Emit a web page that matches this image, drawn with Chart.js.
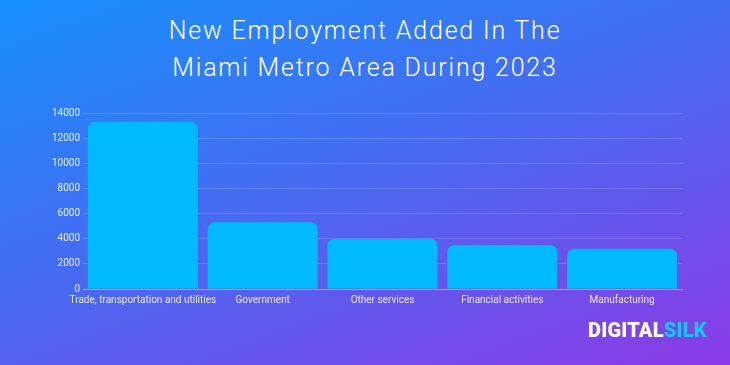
<!DOCTYPE html>
<html>
<head>
<meta charset="utf-8">
<script src="https://cdn.jsdelivr.net/npm/chart.js@4"></script>
<style>
  html, body { margin: 0; padding: 0; }
  body {
    width: 730px; height: 365px; overflow: hidden; position: relative;
    background: linear-gradient(160deg, #1790ff 0%, #4a68f0 50%, #8c3ae6 100%);
    font-family: Roboto, sans-serif;
  }
  #title {
    position: absolute; left: 0; top: 12px; width: 730px;
    text-align: center; color: #fff; font-size: 25px; font-weight: 300;
    line-height: 37px; letter-spacing: 1.8px;
  }
  #logo {
    position: absolute; left: 588px; top: 318px;
    font-family: Roboto, sans-serif; font-weight: 900; font-size: 20px;
    letter-spacing: 0.2px; color: #fff;
  }
  #logo span { color: #16c6f0; }
  canvas { position: absolute; left: 0; top: 0; }
</style>
</head>
<body>
<div id="title">New Employment Added In The<br>Miami Metro Area During 2023</div>
<canvas id="chart" width="730" height="365"></canvas>
<div id="logo">DIGITAL<span>SILK</span></div>
<script>
var labels = ['Trade, transportation and utilities', 'Government', 'Other services', 'Financial activities', 'Manufacturing'];
var jobs = [13300, 5300, 4000, 3500, 3200];
var yTicks = [0, 2000, 4000, 6000, 8000, 10000, 12000, 14000];

Chart.defaults.font.family = 'Roboto, sans-serif';
Chart.defaults.font.size = 10;
Chart.defaults.color = 'rgba(255,255,255,0.85)';

var myChart = new Chart('chart', {
    type: 'bar',
    data: {
        labels: labels,
        datasets: [{
            label: 'Jobs added',
            data: jobs,
            backgroundColor: '#00b9ff',
            borderRadius: { topLeft: 7, topRight: 7 },
            borderSkipped: 'bottom',
            barPercentage: 0.918,
            categoryPercentage: 1
        }]
    },
    options: {
        responsive: false,
        animation: false,
        layout: { padding: { top: 113, right: 48, bottom: 52, left: 0 } },
        plugins: {
            legend: { display: false },
            title: { display: false },
            tooltip: { enabled: false }
        },
        scales: {
            x: {
                grid: { display: false, drawTicks: false },
                border: { display: true, color: 'rgba(255,255,255,0.35)' },
                ticks: { padding: 5, maxRotation: 0, autoSkip: false },
                afterFit: function (s) { s.height = 24; }
            },
            y: {
                min: 0,
                max: 14000,
                afterBuildTicks: function (s) { s.ticks = yTicks.map(function (v) { return { value: v }; }); },
                grid: { color: 'rgba(255,255,255,0.15)', drawTicks: false },
                border: { display: false },
                ticks: { padding: 3, callback: function (v) { return String(v); } },
                afterFit: function (s) { s.width = 83; }
            }
        }
    }
});
</script>
</body>
</html>
